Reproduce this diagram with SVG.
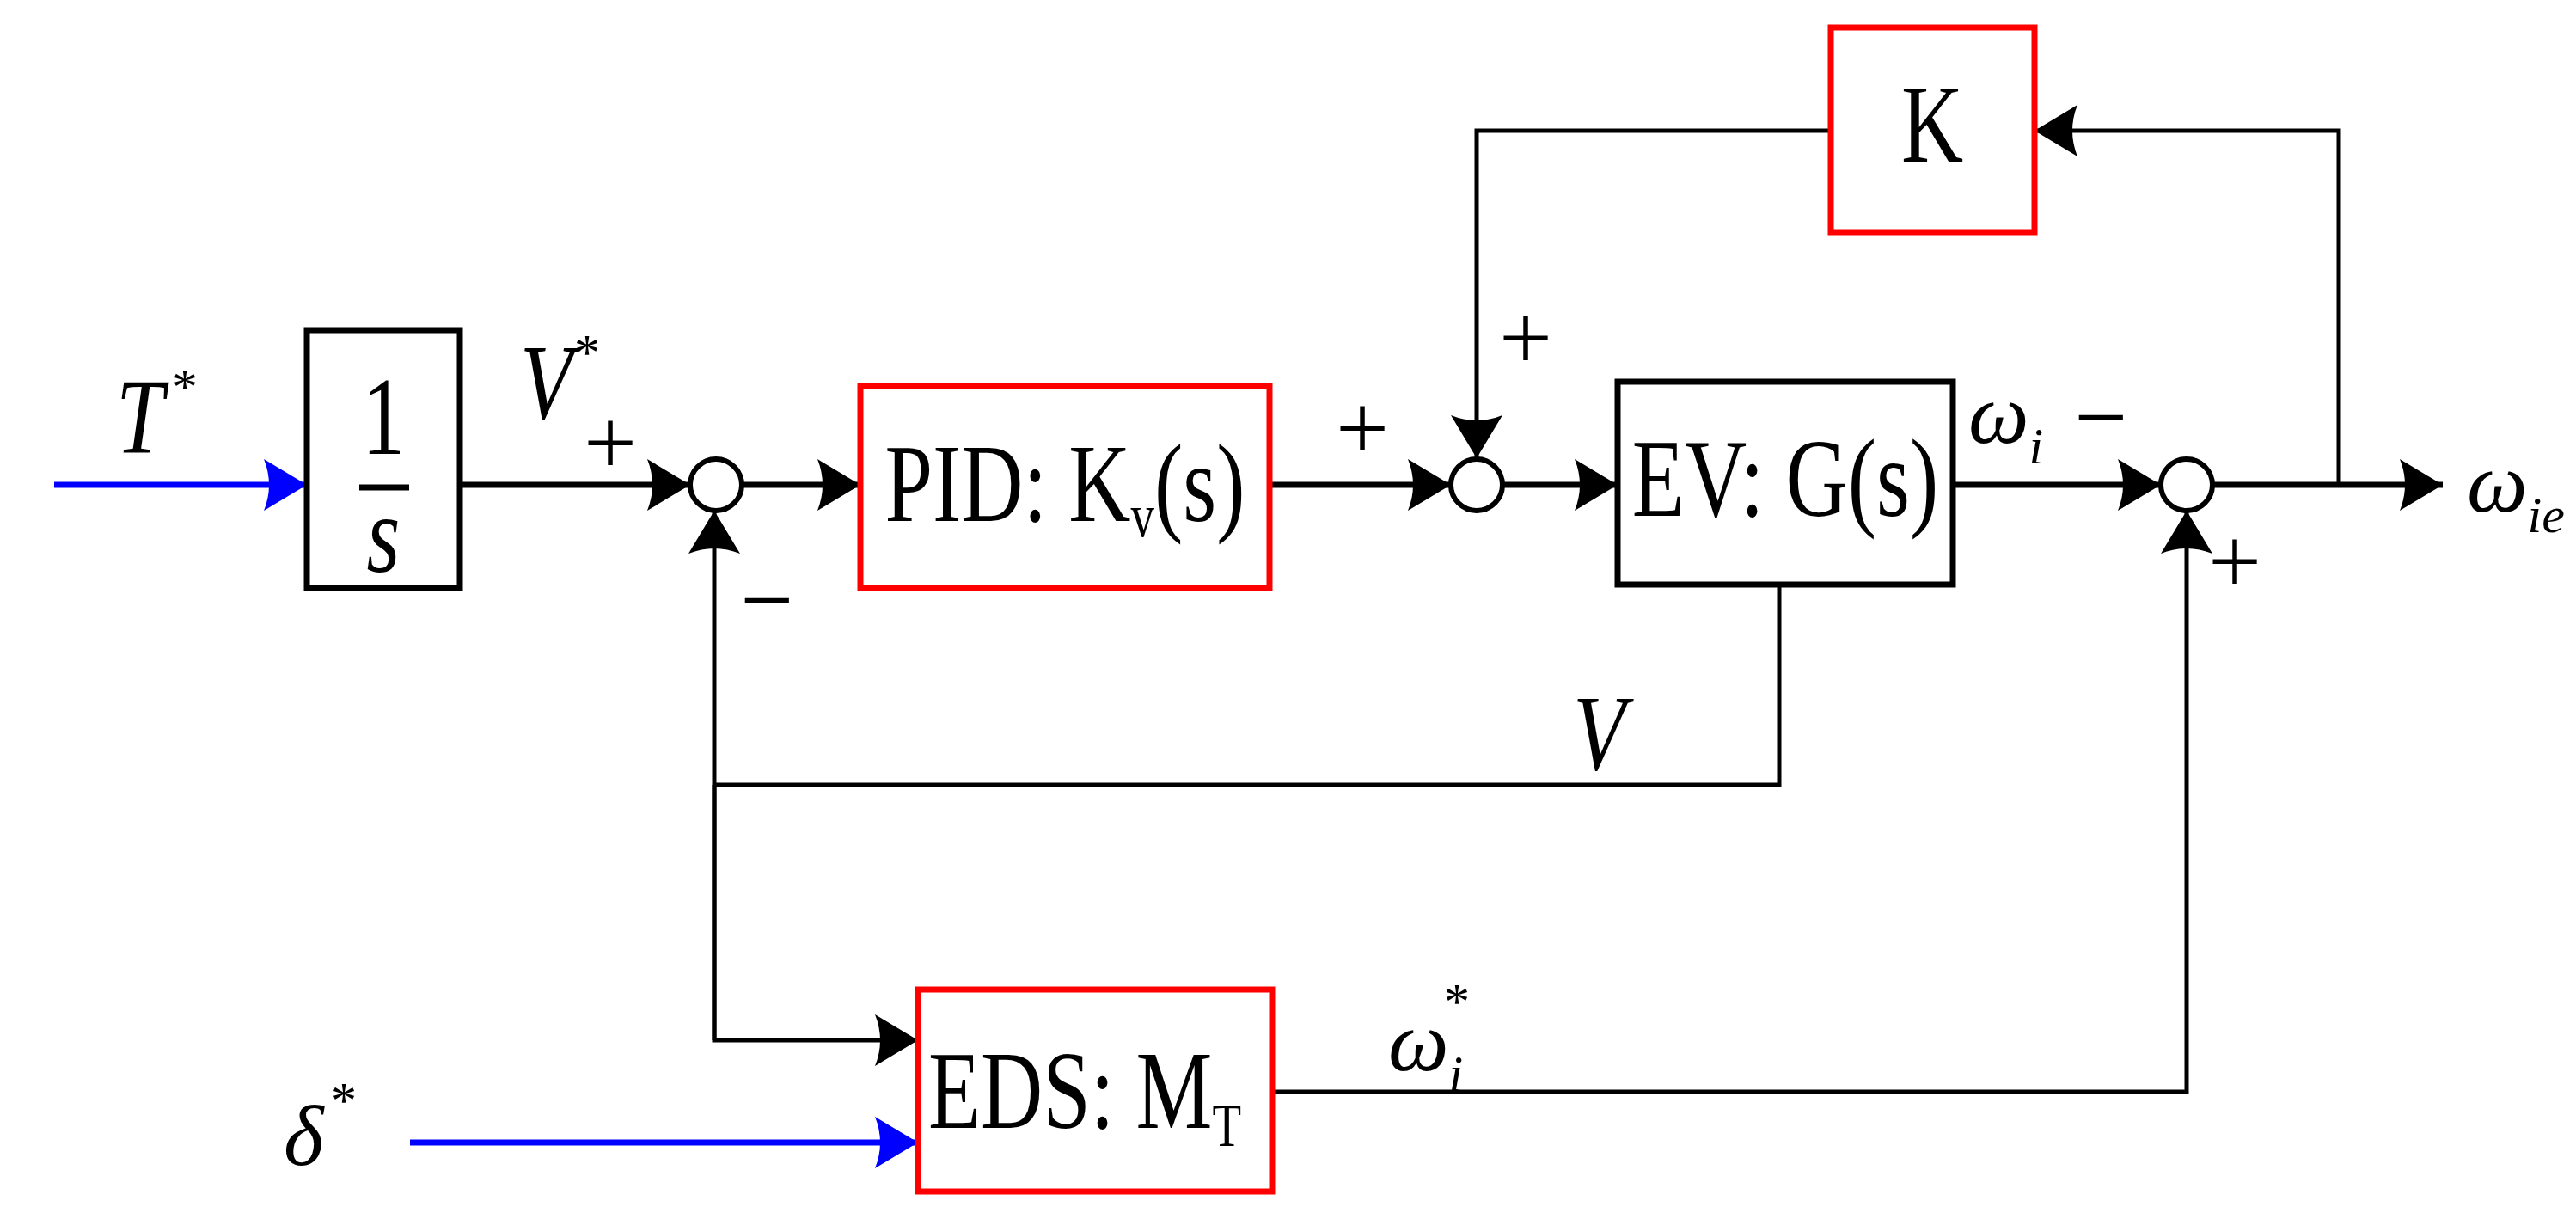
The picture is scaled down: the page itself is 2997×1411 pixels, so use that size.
<svg xmlns="http://www.w3.org/2000/svg" width="2997" height="1411" viewBox="0 0 2997 1411">
<style>
.t{font-family:"Liberation Serif",serif;fill:#000}
.i{font-style:italic}
.blk{fill:#fff;stroke:#000;stroke-width:7}
.red{fill:#fff;stroke:#f00;stroke-width:7}
.w{fill:none;stroke:#000;stroke-width:7}
.th{fill:none;stroke:#000;stroke-width:5}
.bl{fill:none;stroke:#00f;stroke-width:7}
.c{fill:#fff;stroke:#000;stroke-width:6}
</style>
<defs>
<marker id="a" markerUnits="userSpaceOnUse" viewBox="-60 -35 62 70" refX="0" refY="0" markerWidth="62" markerHeight="70" orient="auto"><path d="M0,0 L-50,-30 Q-38,0 -50,30 Z" fill="#000"/></marker>
<marker id="b" markerUnits="userSpaceOnUse" viewBox="-60 -35 62 70" refX="0" refY="0" markerWidth="62" markerHeight="70" orient="auto"><path d="M0,0 L-50,-30 Q-38,0 -50,30 Z" fill="#00f"/></marker>
</defs>
<g id="connectors">
<path class="bl" d="M63,564 H357" marker-end="url(#b)"/>
<path class="w" d="M535,564 H803" marker-end="url(#a)"/>
<path class="w" d="M863,564 H1001" marker-end="url(#a)"/>
<path class="w" d="M1477,564 H1688" marker-end="url(#a)"/>
<path class="w" d="M1750,564 H1882" marker-end="url(#a)"/>
<path class="w" d="M2272,564 H2514" marker-end="url(#a)"/>
<path class="w" d="M2574,564 H2842" marker-end="url(#a)"/>
<path class="th" d="M2721,564 V152 H2367" marker-end="url(#a)"/>
<path class="th" d="M2130,152 H1718 V533" marker-end="url(#a)"/>
<path class="th" d="M2070,680 V913 H831"/>
<path class="th" d="M831,1210 V594" marker-end="url(#a)"/>
<path class="th" d="M831,913 V1210 H1068" marker-end="url(#a)"/>
<path class="bl" d="M477,1329 H1068" marker-end="url(#b)"/>
<path class="th" d="M1480,1270 H2544 V594" marker-end="url(#a)"/>
</g>
<g id="integrator">
<rect class="blk" x="357" y="384" width="178" height="300"/>
<text class="t" transform="translate(446,528) scale(1,1.3)" font-size="100" text-anchor="middle">1</text>
<path d="M418,567 H476" stroke="#000" stroke-width="7"/>
<text class="t i" transform="translate(446,665) scale(1,1.3)" font-size="100" text-anchor="middle">s</text>
</g>
<g id="sum1"><circle class="c" cx="833" cy="564" r="30"/></g>
<g id="pid">
<rect class="red" x="1001" y="449" width="476" height="235"/>
<text class="t" transform="translate(1239,606) scale(1,1.3)" font-size="100" text-anchor="middle">PID: K<tspan font-size="55" dy="14">v</tspan><tspan dy="-14">(s)</tspan></text>
</g>
<g id="sum2"><circle class="c" cx="1718" cy="564" r="30"/></g>
<g id="ev">
<rect class="blk" x="1882" y="444" width="390" height="236"/>
<text class="t" transform="translate(2077,600) scale(1,1.3)" font-size="100" text-anchor="middle">EV: G(s)</text>
</g>
<g id="k">
<rect class="red" x="2130" y="32" width="237" height="238"/>
<text class="t" transform="translate(2248,188) scale(1,1.3)" font-size="100" text-anchor="middle">K</text>
</g>
<g id="sum3"><circle class="c" cx="2544" cy="564" r="30"/></g>
<g id="eds">
<rect class="red" x="1068" y="1151" width="412" height="235"/>
<text class="t" transform="translate(1262,1312) scale(1,1.3)" font-size="100" text-anchor="middle">EDS: M<tspan font-size="55" dy="16">T</tspan></text>
</g>
<g id="labels">
<text class="t i" transform="translate(135,527) scale(1,1.25)" font-size="100">T</text>
<text class="t" x="200" y="470" font-size="60">*</text>
<text class="t i" transform="translate(605,487) scale(1,1.25)" font-size="100">V</text>
<text class="t" x="668" y="430" font-size="60">*</text>
<text class="t" x="710" y="552" font-size="110" text-anchor="middle">+</text>
<text class="t" x="892" y="735" font-size="110" text-anchor="middle">−</text>
<text class="t" x="1585" y="535" font-size="110" text-anchor="middle">+</text>
<text class="t" x="1775" y="430" font-size="110" text-anchor="middle">+</text>
<text class="t i" x="2290" y="515" font-size="100">ω<tspan font-size="60" dy="24">i</tspan></text>
<text class="t" x="2444" y="522" font-size="110" text-anchor="middle">−</text>
<text class="t" x="2600" y="690" font-size="110" text-anchor="middle">+</text>
<text class="t i" x="2870" y="595" font-size="100">ω<tspan font-size="60" dy="24">ie</tspan></text>
<text class="t i" transform="translate(1830,895) scale(1,1.25)" font-size="100">V</text>
<text class="t i" x="1615" y="1245" font-size="100">ω<tspan font-size="60" dy="24">i</tspan></text>
<text class="t" x="1680" y="1185" font-size="60">*</text>
<text class="t i" x="330" y="1355" font-size="100">δ</text>
<text class="t" x="385" y="1300" font-size="60">*</text>
</g>
</svg>
